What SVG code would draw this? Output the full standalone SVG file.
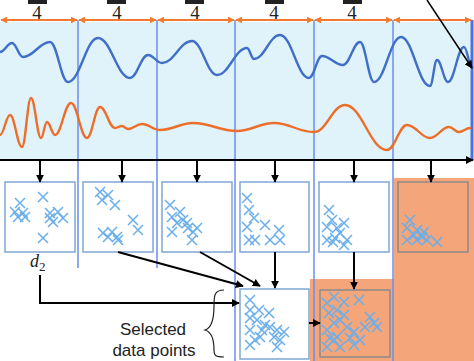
<svg xmlns="http://www.w3.org/2000/svg" width="474" height="361" viewBox="0 0 474 361">
<style>
.vl{stroke:#6a8ef0;stroke-width:1.5;fill:none}
.box{fill:#fff;stroke:#7ea6d6;stroke-width:1.5}
.obox{fill:none;stroke:#8a8a8a;stroke-width:1.5}
.conn{stroke:#000;stroke-width:2;fill:none}
.frac{font-family:"Liberation Serif",serif;font-size:19px;fill:#222;text-anchor:middle}
.lbl{font-family:"Liberation Sans",Arial,sans-serif;font-size:17px;fill:#222;text-anchor:middle}
.pts use{stroke:#6aaeea;stroke-width:1.5}
</style>
<defs>
<path id="x" d="M-5,-5L5,5M-5,5L5,-5" fill="none"/>
<marker id="ah" viewBox="0 0 10 10" refX="9" refY="5" markerWidth="8" markerHeight="8" markerUnits="userSpaceOnUse" orient="auto"><path d="M0,0L10,5L0,10z" fill="#000"/></marker>
<marker id="oh" viewBox="0 0 10 10" refX="9" refY="5" markerWidth="7" markerHeight="7" markerUnits="userSpaceOnUse" orient="auto-start-reverse"><path d="M0,0L10,5L0,10z" fill="#f07a30"/></marker>
</defs>

<!-- background regions -->
<rect x="0" y="22" width="472" height="138" fill="#e0f3fb"/>
<rect x="394" y="178" width="80" height="183" fill="#f5a57a"/>
<rect x="310" y="279" width="84" height="82" fill="#f5a57a"/>

<!-- fraction labels -->
<g id="labels-top">
<rect x="28" y="0" width="19" height="4" fill="#222"/><text class="frac" x="37" y="19">4</text>
<rect x="107" y="0" width="19" height="4" fill="#222"/><text class="frac" x="117" y="19">4</text>
<rect x="185" y="0" width="19" height="4" fill="#222"/><text class="frac" x="195" y="19">4</text>
<rect x="265" y="0" width="19" height="4" fill="#222"/><text class="frac" x="274" y="19">4</text>
<rect x="343" y="0" width="19" height="4" fill="#222"/><text class="frac" x="352" y="19">4</text>
</g>

<!-- segment separators -->
<g id="separators">
<line class="vl" x1="78" y1="20" x2="78" y2="268"/>
<line class="vl" x1="157" y1="20" x2="157" y2="268"/>
<line class="vl" x1="235" y1="20" x2="235" y2="361"/>
<line class="vl" x1="314" y1="20" x2="314" y2="361"/>
<line class="vl" x1="393" y1="20" x2="393" y2="361"/>
<line x1="472" y1="20" x2="472" y2="160" stroke="#4a72e0" stroke-width="3"/>
</g>

<!-- orange window arrows -->
<g id="windows" stroke="#f07a30" stroke-width="2" fill="none">
<line x1="1" y1="20" x2="77" y2="20" marker-start="url(#oh)" marker-end="url(#oh)"/>
<line x1="79" y1="20" x2="156" y2="20" marker-start="url(#oh)" marker-end="url(#oh)"/>
<line x1="158" y1="20" x2="234" y2="20" marker-start="url(#oh)" marker-end="url(#oh)"/>
<line x1="236" y1="20" x2="313" y2="20" marker-start="url(#oh)" marker-end="url(#oh)"/>
<line x1="315" y1="20" x2="392" y2="20" marker-start="url(#oh)" marker-end="url(#oh)"/>
<line x1="394" y1="20" x2="471" y2="20" marker-start="url(#oh)" marker-end="url(#oh)"/>
</g>

<!-- signals -->
<g id="signals" fill="none" stroke-width="2.4" stroke-linecap="round" stroke-linejoin="round">
<path stroke="#3f6fc6" d="M0,52 C4.8,52 7.2,43 12,43 C16.4,43 18.6,57 23,57 C33.8,57 39.2,42 50,42 C57.2,42 60.8,82 68,82 C80,82 86,38 98,38 C110.8,38 117.2,78 130,78 C137.2,78 140.8,55 148,55 C153.6,55 156.4,63 162,63 C174,63 180,41 192,41 C202,41 207,75 217,75 C229,75 235,48 247,48 C249.8,48 251.2,59 254,59 C264.4,59 269.6,35 280,35 C291.6,35 297.4,78 309,78 C314.2,78 316.8,56 322,56 C330.4,56 334.6,65 343,65 C349.8,65 353.2,42 360,42 C365.6,42 368.4,82 374,82 C384.8,82 390.2,37 401,37 C412.6,37 418.4,86 430,86 C432.8,86 434.2,60 437,60 C441.4,60 443.6,82 448,82 C454.4,82 457.6,47 464,47 C467.2,47 468.8,67 472,67"/>
<path stroke="#ec6e2a" d="M0,135 C4,135 6,115 10,115 C14.8,115 17.2,147 22,147 C25.6,147 27.4,98 31,98 C35,98 37,138 41,138 C43.4,138 44.6,122 47,122 C50.2,122 51.8,135 55,135 C61.4,135 64.6,103 71,103 C77.4,103 80.6,138 87,138 C92.2,138 94.8,107 100,107 C106,107 109,128 115,128 C117.8,128 119.2,126 122,126 C124.4,126 125.6,129 128,129 C133.6,129 136.4,124 142,124 C149.2,124 152.8,130 160,130 C173.2,130 179.8,123 193,123 C210.6,123 219.4,131 237,131 C251.8,131 259.2,123 274,123 C290,123 298,132 314,132 C326.4,132 332.6,105 345,105 C361.8,105 370.2,150 387,150 C395,150 399,125 407,125 C416.2,125 420.8,138 430,138 C437.6,138 441.4,127 449,127 C453,127 455,132 459,132 C463.4,132 465.6,128 470,128"/>
</g>

<!-- time axis -->
<line id="axis" class="conn" x1="0" y1="160" x2="473" y2="160" marker-end="url(#ah)"/>

<!-- window boxes -->
<g id="box1"><rect class="box" x="5" y="182" width="70" height="70"/>
<g class="pts"><use href="#x" x="20" y="203"/><use href="#x" x="15" y="212"/><use href="#x" x="23" y="213"/><use href="#x" x="18" y="217"/><use href="#x" x="25" y="217"/><use href="#x" x="43" y="197"/><use href="#x" x="50" y="213"/><use href="#x" x="58" y="212"/><use href="#x" x="63" y="218"/><use href="#x" x="53" y="222"/><use href="#x" x="43" y="238"/><use href="#x" x="50" y="218"/></g></g>
<g id="box2"><rect class="box" x="83" y="182" width="70" height="70"/>
<g class="pts"><use href="#x" x="100" y="192"/><use href="#x" x="108" y="195"/><use href="#x" x="102" y="200"/><use href="#x" x="115" y="205"/><use href="#x" x="133" y="220"/><use href="#x" x="138" y="230"/><use href="#x" x="103" y="233"/><use href="#x" x="112" y="232"/><use href="#x" x="117" y="237"/><use href="#x" x="108" y="237"/><use href="#x" x="118" y="240"/></g></g>
<g id="box3"><rect class="box" x="162" y="182" width="70" height="70"/>
<g class="pts"><use href="#x" x="170" y="205"/><use href="#x" x="172" y="217"/><use href="#x" x="180" y="212"/><use href="#x" x="183" y="220"/><use href="#x" x="172" y="232"/><use href="#x" x="177" y="223"/><use href="#x" x="188" y="228"/><use href="#x" x="193" y="232"/><use href="#x" x="197" y="228"/><use href="#x" x="192" y="240"/><use href="#x" x="187" y="223"/></g></g>
<g id="box4"><rect class="box" x="240" y="182" width="69" height="70"/>
<g class="pts"><use href="#x" x="247" y="198"/><use href="#x" x="249" y="210"/><use href="#x" x="254" y="218"/><use href="#x" x="247" y="227"/><use href="#x" x="265" y="225"/><use href="#x" x="279" y="230"/><use href="#x" x="249" y="240"/><use href="#x" x="255" y="240"/><use href="#x" x="270" y="240"/><use href="#x" x="280" y="240"/></g></g>
<g id="box5"><rect class="box" x="319" y="182" width="70" height="70"/>
<g class="pts"><use href="#x" x="329" y="210"/><use href="#x" x="332" y="220"/><use href="#x" x="327" y="227"/><use href="#x" x="337" y="228"/><use href="#x" x="344" y="223"/><use href="#x" x="340" y="233"/><use href="#x" x="327" y="240"/><use href="#x" x="335" y="238"/><use href="#x" x="347" y="240"/><use href="#x" x="344" y="245"/><use href="#x" x="333" y="242"/></g></g>
<g id="box6"><rect class="obox" x="398" y="182" width="70" height="70"/>
<g class="pts"><use href="#x" x="410" y="220"/><use href="#x" x="407" y="228"/><use href="#x" x="417" y="230"/><use href="#x" x="424" y="232"/><use href="#x" x="407" y="240"/><use href="#x" x="417" y="240"/><use href="#x" x="427" y="240"/><use href="#x" x="437" y="242"/><use href="#x" x="414" y="235"/><use href="#x" x="422" y="237"/></g></g>

<!-- selected box -->
<g id="selected"><rect class="box" x="240" y="289" width="69" height="70"/>
<g class="pts"><use href="#x" x="250" y="300"/><use href="#x" x="250" y="310"/><use href="#x" x="259" y="310"/><use href="#x" x="269" y="313"/><use href="#x" x="250" y="318"/><use href="#x" x="257" y="320"/><use href="#x" x="265" y="325"/><use href="#x" x="270" y="327"/><use href="#x" x="250" y="330"/><use href="#x" x="262" y="330"/><use href="#x" x="277" y="330"/><use href="#x" x="284" y="332"/><use href="#x" x="255" y="340"/><use href="#x" x="274" y="337"/><use href="#x" x="280" y="340"/><use href="#x" x="277" y="347"/><use href="#x" x="250" y="345"/><use href="#x" x="260" y="337"/></g></g>

<!-- merged box -->
<g id="merged"><rect class="obox" x="320" y="290" width="70" height="67"/>
<g class="pts"><use href="#x" x="334" y="297"/><use href="#x" x="327" y="303"/><use href="#x" x="344" y="302"/><use href="#x" x="359" y="300"/><use href="#x" x="337" y="310"/><use href="#x" x="329" y="313"/><use href="#x" x="340" y="320"/><use href="#x" x="334" y="323"/><use href="#x" x="347" y="327"/><use href="#x" x="354" y="332"/><use href="#x" x="327" y="330"/><use href="#x" x="337" y="337"/><use href="#x" x="350" y="338"/><use href="#x" x="360" y="340"/><use href="#x" x="327" y="347"/><use href="#x" x="340" y="347"/><use href="#x" x="354" y="345"/><use href="#x" x="370" y="317"/><use href="#x" x="374" y="323"/><use href="#x" x="365" y="327"/><use href="#x" x="377" y="327"/><use href="#x" x="334" y="340"/><use href="#x" x="344" y="315"/><use href="#x" x="330" y="338"/></g></g>

<!-- connectors -->
<g id="connectors" class="conn">
<line x1="40" y1="160" x2="40" y2="182" marker-end="url(#ah)"/>
<line x1="122" y1="160" x2="122" y2="182" marker-end="url(#ah)"/>
<line x1="197" y1="160" x2="197" y2="182" marker-end="url(#ah)"/>
<line x1="275" y1="160" x2="275" y2="182" marker-end="url(#ah)"/>
<line x1="354" y1="160" x2="354" y2="182" marker-end="url(#ah)"/>
<line x1="431" y1="160" x2="431" y2="182" marker-end="url(#ah)"/>
<line x1="118" y1="252" x2="243" y2="286" marker-end="url(#ah)"/>
<line x1="200" y1="252" x2="260" y2="286" marker-end="url(#ah)"/>
<line x1="275" y1="252" x2="275" y2="288" marker-end="url(#ah)"/>
<line x1="354" y1="252" x2="354" y2="289" marker-end="url(#ah)"/>
<polyline points="40,275 40,303 239,303" marker-end="url(#ah)"/>
<line x1="309" y1="323" x2="320" y2="323" marker-end="url(#ah)"/>
<line x1="427" y1="0" x2="472" y2="68" stroke-width="1.5" marker-end="url(#ah)"/>
</g>

<!-- d2 label -->
<text x="30" y="267" font-family="'Liberation Serif',serif" font-style="italic" font-size="18" fill="#222">d<tspan font-style="normal" font-size="13" dy="4">2</tspan></text>

<!-- selected data points label -->
<g id="sel-label">
<text class="lbl" x="153" y="335">Selected</text>
<text class="lbl" x="154" y="356">data points</text>
<path d="M224,290 C214,290 214,296 214,306 C214,318 212,328 205,330 C212,332 214,342 214,350 C214,356 216,357 224,357" fill="none" stroke="#222" stroke-width="1.2"/>
</g>
</svg>
